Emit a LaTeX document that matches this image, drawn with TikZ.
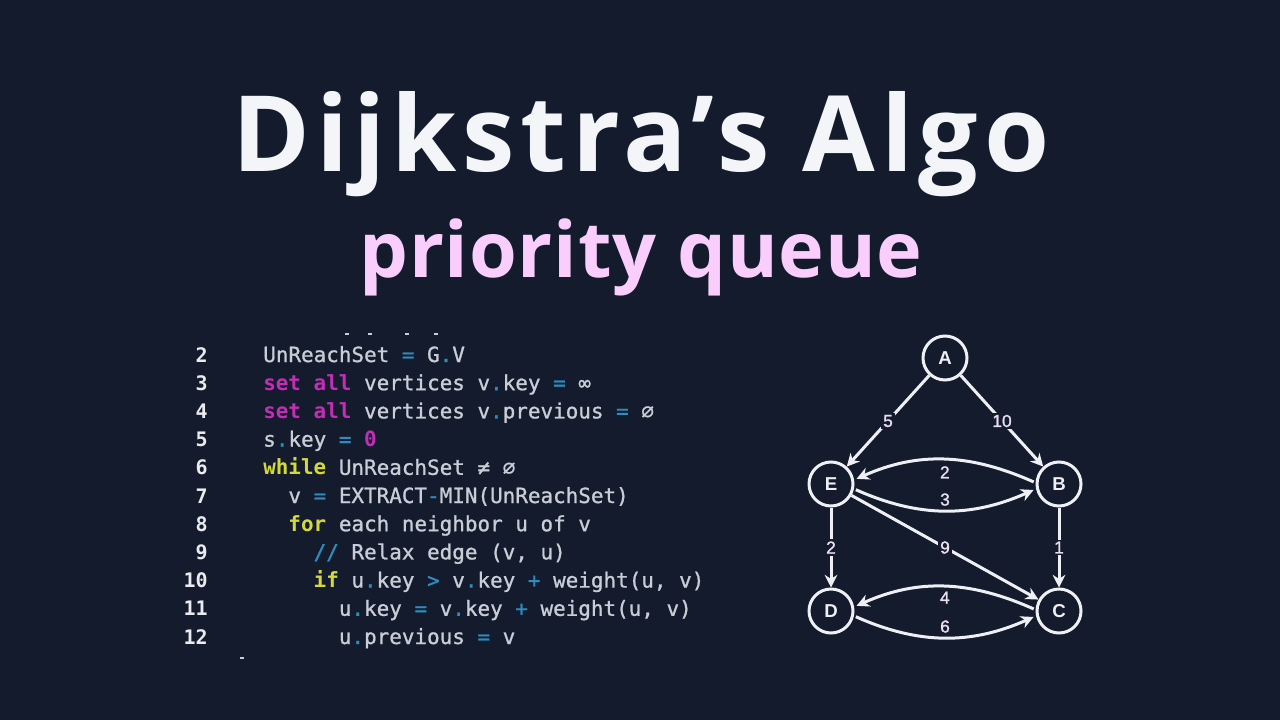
\documentclass[tikz,border=0pt]{standalone}
\usepackage{fontspec}
\setmainfont{Liberation Sans}
\setmonofont[UprightFeatures={FakeBold=1}]{DejaVu Sans Mono}
\newfontfamily\headfont[LetterSpace=5.4]{Open Sans}
\newfontfamily\subheadfont[LetterSpace=1.0]{Open Sans}
\newfontfamily\labelfont[FakeBold=1.5]{Liberation Sans}
\usetikzlibrary{positioning,arrows.meta}

\definecolor{bgcol}{HTML}{131B2D}
\definecolor{titlecol}{HTML}{F3F5F9}
\definecolor{pinkcol}{HTML}{FACEFC}
\definecolor{codecol}{HTML}{C9CDD6}
\definecolor{numcol}{HTML}{E9EBEF}
\definecolor{edgecol}{HTML}{EEF0F5}
\definecolor{labelcol}{HTML}{E7DEF0}
\definecolor{magcol}{HTML}{C42DB6}
\definecolor{yelcol}{HTML}{D5D83C}
\definecolor{blucol}{HTML}{2E8DBE}

\newcommand{\mg}[1]{\textcolor{magcol}{\textbf{#1}}}
\newcommand{\yl}[1]{\textcolor{yelcol}{\textbf{#1}}}
\newcommand{\bl}[1]{\textcolor{blucol}{#1}}

\begin{document}
\begin{tikzpicture}[x=0.75pt,y=-0.75pt,
        vertex/.style = {
            draw=edgecol,
            circle,
            line width=2.25pt,
            minimum size=33pt,
            inner sep=0pt,
            text=edgecol,
            font=\fontsize{14}{14}\selectfont\bfseries
        },
        weight/.style = {
            fill=bgcol,
            text=labelcol,
            inner sep=1.5pt,
            font=\labelfont\fontsize{13}{13}\selectfont
        },
        edge/.style = {
            draw=edgecol,
            line width=2.25pt,
            -{Stealth[length=9.5pt,width=9.5pt]}
        },
        bent/.style = {edge, shorten >=2pt, shorten <=1.5pt},
        codeline/.style = {anchor=base west, inner sep=0pt, text=codecol, font=\ttfamily\fontsize{15.7}{15.7}\selectfont},
        numline/.style = {anchor=base east, inner sep=0pt, text=numcol, font=\ttfamily\bfseries\fontsize{15}{15}\selectfont},
        node distance=171pt, on grid]

        \fill[bgcol] (0,0) rectangle (1280,720);

        \node[anchor=base, inner sep=0pt, text=titlecol, font=\headfont\bfseries\fontsize{79}{79}\selectfont] (title) at (641,172) {Dijkstra’s Algo};
        \node[anchor=base, inner sep=0pt, text=pinkcol, font=\subheadfont\bfseries\fontsize{58}{58}\selectfont] (subtitle) at (641,277) {priority queue};

        % code
        \foreach \n/\ind/\txt in {
            2/0/{UnReachSet \bl{=} G\bl{.}V},
            3/0/{\mg{set all} vertices v\bl{.}key \bl{=} ∞},
            4/0/{\mg{set all} vertices v\bl{.}previous \bl{=} ∅},
            5/0/{s\bl{.}key \bl{=} \mg{0}},
            6/0/{\yl{while} UnReachSet ≠ ∅},
            7/2/{v \bl{=} EXTRACT\bl{-}MIN(UnReachSet)},
            8/2/{\yl{for} each neighbor u of v},
            9/4/{\bl{//} Relax edge (v, u)},
            10/4/{\yl{if} u\bl{.}key \bl{>} v\bl{.}key \bl{+} weight(u, v)},
            11/6/{u\bl{.}key \bl{=} v\bl{.}key \bl{+} weight(u, v)},
            12/6/{u\bl{.}previous \bl{=} v}}{
            \node[numline] (num\n) at (208,{362+(\n-2)*28.2}) {\n};
            \node[codeline] (line\n) at ({263+\ind*12.6},{362+(\n-2)*28.2}) {\txt};
        }

        % clipped rows
        \foreach \mx/\my in {347/334,370/334,407/334,436/334,242/658}{
            \fill[codecol] (\mx-2,\my-1) rectangle (\mx+2,\my+1);
        }

        % graph
        \node[vertex] (e) at (831,484) {E};
        \node[vertex, right=of e] (b) {B};
        \node[vertex, below=95.25pt of e] (d) {D};
        \node[vertex, right=of d] (c) {C};
        \node[vertex, above right=94.5pt and 85.5pt of e] (a) {A};

        \draw[edge] (a) -- (e) node[midway, weight] {5};
        \draw[edge] (a) -- (b) node[midway, weight] {10};
        \draw[bent] (b.177) to[out=156, in=24] node[midway, yshift=-9.5pt, weight] {2} (e.10);
        \draw[bent] (e.-12) to[out=-24, in=-156] node[midway, yshift=8.25pt, weight] {3} (b.-168);
        \draw[edge] (e) -- (d) node[midway, weight] {2};
        \draw[edge] (e) -- (c) node[midway, weight] {9};
        \draw[edge] (b) -- (c) node[midway, weight] {1};
        \draw[bent] (c.177) to[out=156, in=24] node[midway, yshift=-8.25pt, weight] {4} (d.10);
        \draw[bent] (d.-12) to[out=-24, in=-156] node[midway, yshift=8.25pt, weight] {6} (c.-168);
    \end{tikzpicture}
\end{document}
